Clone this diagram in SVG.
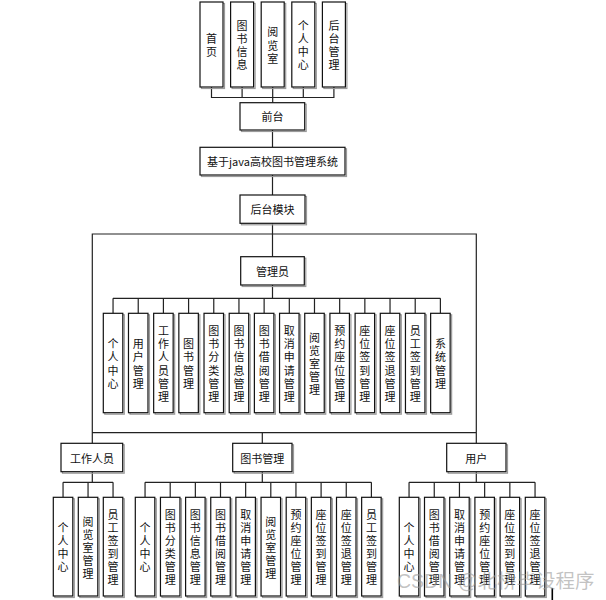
<svg xmlns="http://www.w3.org/2000/svg" width="606" height="600" viewBox="0 0 606 600">
<style>
.s{fill:none;stroke:#9a9a9a;stroke-width:1.2}
.b{fill:#fff;stroke:#111;stroke-width:1.2}
.t{font-family:"Noto Sans CJK SC","Noto Sans",sans-serif;font-size:11px;fill:#111;text-anchor:middle;dominant-baseline:central}
.c{fill:none;stroke:#222;stroke-width:1.2}
.wm{font-family:"Liberation Sans","Noto Sans CJK SC",sans-serif;font-size:19.5px;fill:#9a9a9a;fill-opacity:0.6}
</style>
<rect width="606" height="600" fill="#fff"/>
<g id="connectors">
<path class="c" d="M211.5 87V97.5H333.9V87M242.1 87V97.5M272.7 87V102.7M303.3 87V97.5"/>
<path class="c" d="M272.5 130V147.3M272.5 175V195M272.5 223.3V256.7"/>
<path class="c" d="M92.3 443.3V234H476.3V443.3M92.3 432.7H476.3M262.3 432.7V443.3"/>
<path class="c" d="M272.5 285V298.3M113 298.3H440.4"/>
<path class="c" d="M113.05 298.3V313.3M138.23 298.3V313.3M163.41 298.3V313.3M188.59 298.3V313.3M213.77 298.3V313.3M238.95 298.3V313.3M264.13 298.3V313.3M289.31 298.3V313.3M314.49 298.3V313.3M339.67 298.3V313.3M364.85 298.3V313.3M390.03 298.3V313.3M415.21 298.3V313.3M440.39 298.3V313.3"/>
<path class="c" d="M92.3 471.7V482.3M63.05 482.3H113.05M63.05 482.3V497.3M88.05 482.3V497.3M113.05 482.3V497.3"/>
<path class="c" d="M262.3 471.7V482.3M145.05 482.3H371.4M145.05 482.3V497.3M170.2 482.3V497.3M195.35 482.3V497.3M220.5 482.3V497.3M245.65 482.3V497.3M270.8 482.3V497.3M295.95 482.3V497.3M321.1 482.3V497.3M346.25 482.3V497.3M371.4 482.3V497.3"/>
<path class="c" d="M476.3 471.7V482.3M409.05 482.3H535.05M409.05 482.3V497.3M434.25 482.3V497.3M459.45 482.3V497.3M484.65 482.3V497.3M509.85 482.3V497.3M535.05 482.3V497.3"/>
<path d="M552.3 588V600" stroke="#000" stroke-width="1.6"/>
</g>
<g id="top-1"><rect class="s" x="201.5" y="3.5" width="23" height="85"/><rect class="b" x="200" y="2" width="23" height="85"/><text class="t"><tspan x="211.5" y="37.95">首</tspan><tspan x="211.5" dy="13.1">页</tspan></text></g>
<g id="top-2"><rect class="s" x="232.1" y="3.5" width="23" height="85"/><rect class="b" x="230.6" y="2" width="23" height="85"/><text class="t"><tspan x="242.1" y="24.85">图</tspan><tspan x="242.1" dy="13.1">书</tspan><tspan x="242.1" dy="13.1">信</tspan><tspan x="242.1" dy="13.1">息</tspan></text></g>
<g id="top-3"><rect class="s" x="262.7" y="3.5" width="23" height="85"/><rect class="b" x="261.2" y="2" width="23" height="85"/><text class="t"><tspan x="272.7" y="31.4">阅</tspan><tspan x="272.7" dy="13.1">览</tspan><tspan x="272.7" dy="13.1">室</tspan></text></g>
<g id="top-4"><rect class="s" x="293.3" y="3.5" width="23" height="85"/><rect class="b" x="291.8" y="2" width="23" height="85"/><text class="t"><tspan x="303.3" y="24.85">个</tspan><tspan x="303.3" dy="13.1">人</tspan><tspan x="303.3" dy="13.1">中</tspan><tspan x="303.3" dy="13.1">心</tspan></text></g>
<g id="top-5"><rect class="s" x="323.9" y="3.5" width="23" height="85"/><rect class="b" x="322.4" y="2" width="23" height="85"/><text class="t"><tspan x="333.9" y="24.85">后</tspan><tspan x="333.9" dy="13.1">台</tspan><tspan x="333.9" dy="13.1">管</tspan><tspan x="333.9" dy="13.1">理</tspan></text></g>
<g id="qiantai"><rect class="s" x="241.5" y="104.2" width="64.7" height="27.3"/><rect class="b" x="240" y="102.7" width="64.7" height="27.3"/><text class="t" x="272.4" y="116.4">前台</text></g>
<g id="system"><rect class="s" x="201.5" y="148.8" width="145" height="27.7"/><rect class="b" x="200" y="147.3" width="145" height="27.7"/><text class="t" x="272.5" y="161.2">基于java高校图书管理系统</text></g>
<g id="houtai"><rect class="s" x="241.5" y="196.5" width="65" height="28.3"/><rect class="b" x="240" y="195" width="65" height="28.3"/><text class="t" x="272.5" y="209.2">后台模块</text></g>
<g id="admin"><rect class="s" x="242.2" y="258.2" width="63.6" height="28.3"/><rect class="b" x="240.7" y="256.7" width="63.6" height="28.3"/><text class="t" x="272.5" y="270.9">管理员</text></g>
<g id="admin-1"><rect class="s" x="104.8" y="314.8" width="19.5" height="99.4"/><rect class="b" x="103.3" y="313.3" width="19.5" height="99.4"/><text class="t"><tspan x="113.05" y="343.35">个</tspan><tspan x="113.05" dy="13.1">人</tspan><tspan x="113.05" dy="13.1">中</tspan><tspan x="113.05" dy="13.1">心</tspan></text></g>
<g id="admin-2"><rect class="s" x="129.98" y="314.8" width="19.5" height="99.4"/><rect class="b" x="128.48" y="313.3" width="19.5" height="99.4"/><text class="t"><tspan x="138.23" y="343.35">用</tspan><tspan x="138.23" dy="13.1">户</tspan><tspan x="138.23" dy="13.1">管</tspan><tspan x="138.23" dy="13.1">理</tspan></text></g>
<g id="admin-3"><rect class="s" x="155.16" y="314.8" width="19.5" height="99.4"/><rect class="b" x="153.66" y="313.3" width="19.5" height="99.4"/><text class="t"><tspan x="163.41" y="330.25">工</tspan><tspan x="163.41" dy="13.1">作</tspan><tspan x="163.41" dy="13.1">人</tspan><tspan x="163.41" dy="13.1">员</tspan><tspan x="163.41" dy="13.1">管</tspan><tspan x="163.41" dy="13.1">理</tspan></text></g>
<g id="admin-4"><rect class="s" x="180.34" y="314.8" width="19.5" height="99.4"/><rect class="b" x="178.84" y="313.3" width="19.5" height="99.4"/><text class="t"><tspan x="188.59" y="343.35">图</tspan><tspan x="188.59" dy="13.1">书</tspan><tspan x="188.59" dy="13.1">管</tspan><tspan x="188.59" dy="13.1">理</tspan></text></g>
<g id="admin-5"><rect class="s" x="205.52" y="314.8" width="19.5" height="99.4"/><rect class="b" x="204.02" y="313.3" width="19.5" height="99.4"/><text class="t"><tspan x="213.77" y="330.25">图</tspan><tspan x="213.77" dy="13.1">书</tspan><tspan x="213.77" dy="13.1">分</tspan><tspan x="213.77" dy="13.1">类</tspan><tspan x="213.77" dy="13.1">管</tspan><tspan x="213.77" dy="13.1">理</tspan></text></g>
<g id="admin-6"><rect class="s" x="230.7" y="314.8" width="19.5" height="99.4"/><rect class="b" x="229.2" y="313.3" width="19.5" height="99.4"/><text class="t"><tspan x="238.95" y="330.25">图</tspan><tspan x="238.95" dy="13.1">书</tspan><tspan x="238.95" dy="13.1">信</tspan><tspan x="238.95" dy="13.1">息</tspan><tspan x="238.95" dy="13.1">管</tspan><tspan x="238.95" dy="13.1">理</tspan></text></g>
<g id="admin-7"><rect class="s" x="255.88" y="314.8" width="19.5" height="99.4"/><rect class="b" x="254.38" y="313.3" width="19.5" height="99.4"/><text class="t"><tspan x="264.13" y="330.25">图</tspan><tspan x="264.13" dy="13.1">书</tspan><tspan x="264.13" dy="13.1">借</tspan><tspan x="264.13" dy="13.1">阅</tspan><tspan x="264.13" dy="13.1">管</tspan><tspan x="264.13" dy="13.1">理</tspan></text></g>
<g id="admin-8"><rect class="s" x="281.06" y="314.8" width="19.5" height="99.4"/><rect class="b" x="279.56" y="313.3" width="19.5" height="99.4"/><text class="t"><tspan x="289.31" y="330.25">取</tspan><tspan x="289.31" dy="13.1">消</tspan><tspan x="289.31" dy="13.1">申</tspan><tspan x="289.31" dy="13.1">请</tspan><tspan x="289.31" dy="13.1">管</tspan><tspan x="289.31" dy="13.1">理</tspan></text></g>
<g id="admin-9"><rect class="s" x="306.24" y="314.8" width="19.5" height="99.4"/><rect class="b" x="304.74" y="313.3" width="19.5" height="99.4"/><text class="t"><tspan x="314.49" y="336.8">阅</tspan><tspan x="314.49" dy="13.1">览</tspan><tspan x="314.49" dy="13.1">室</tspan><tspan x="314.49" dy="13.1">管</tspan><tspan x="314.49" dy="13.1">理</tspan></text></g>
<g id="admin-10"><rect class="s" x="331.42" y="314.8" width="19.5" height="99.4"/><rect class="b" x="329.92" y="313.3" width="19.5" height="99.4"/><text class="t"><tspan x="339.67" y="330.25">预</tspan><tspan x="339.67" dy="13.1">约</tspan><tspan x="339.67" dy="13.1">座</tspan><tspan x="339.67" dy="13.1">位</tspan><tspan x="339.67" dy="13.1">管</tspan><tspan x="339.67" dy="13.1">理</tspan></text></g>
<g id="admin-11"><rect class="s" x="356.6" y="314.8" width="19.5" height="99.4"/><rect class="b" x="355.1" y="313.3" width="19.5" height="99.4"/><text class="t"><tspan x="364.85" y="330.25">座</tspan><tspan x="364.85" dy="13.1">位</tspan><tspan x="364.85" dy="13.1">签</tspan><tspan x="364.85" dy="13.1">到</tspan><tspan x="364.85" dy="13.1">管</tspan><tspan x="364.85" dy="13.1">理</tspan></text></g>
<g id="admin-12"><rect class="s" x="381.78" y="314.8" width="19.5" height="99.4"/><rect class="b" x="380.28" y="313.3" width="19.5" height="99.4"/><text class="t"><tspan x="390.03" y="330.25">座</tspan><tspan x="390.03" dy="13.1">位</tspan><tspan x="390.03" dy="13.1">签</tspan><tspan x="390.03" dy="13.1">退</tspan><tspan x="390.03" dy="13.1">管</tspan><tspan x="390.03" dy="13.1">理</tspan></text></g>
<g id="admin-13"><rect class="s" x="406.96" y="314.8" width="19.5" height="99.4"/><rect class="b" x="405.46" y="313.3" width="19.5" height="99.4"/><text class="t"><tspan x="415.21" y="330.25">员</tspan><tspan x="415.21" dy="13.1">工</tspan><tspan x="415.21" dy="13.1">签</tspan><tspan x="415.21" dy="13.1">到</tspan><tspan x="415.21" dy="13.1">管</tspan><tspan x="415.21" dy="13.1">理</tspan></text></g>
<g id="admin-14"><rect class="s" x="432.14" y="314.8" width="19.5" height="99.4"/><rect class="b" x="430.64" y="313.3" width="19.5" height="99.4"/><text class="t"><tspan x="440.39" y="343.35">系</tspan><tspan x="440.39" dy="13.1">统</tspan><tspan x="440.39" dy="13.1">管</tspan><tspan x="440.39" dy="13.1">理</tspan></text></g>
<g id="staff"><rect class="s" x="62.5" y="444.8" width="61.7" height="28.4"/><rect class="b" x="61" y="443.3" width="61.7" height="28.4"/><text class="t" x="91.9" y="457.5">工作人员</text></g>
<g id="books"><rect class="s" x="234.2" y="444.8" width="59.3" height="28.4"/><rect class="b" x="232.7" y="443.3" width="59.3" height="28.4"/><text class="t" x="262.3" y="457.5">图书管理</text></g>
<g id="user"><rect class="s" x="448.2" y="444.8" width="59.3" height="28.4"/><rect class="b" x="446.7" y="443.3" width="59.3" height="28.4"/><text class="t" x="476.3" y="457.5">用户</text></g>
<g id="staff-1"><rect class="s" x="54.8" y="498.8" width="19.5" height="98.7"/><rect class="b" x="53.3" y="497.3" width="19.5" height="98.7"/><text class="t"><tspan x="63.05" y="527.05">个</tspan><tspan x="63.05" dy="13.1">人</tspan><tspan x="63.05" dy="13.1">中</tspan><tspan x="63.05" dy="13.1">心</tspan></text></g>
<g id="staff-2"><rect class="s" x="79.8" y="498.8" width="19.5" height="98.7"/><rect class="b" x="78.3" y="497.3" width="19.5" height="98.7"/><text class="t"><tspan x="88.05" y="520.5">阅</tspan><tspan x="88.05" dy="13.1">览</tspan><tspan x="88.05" dy="13.1">室</tspan><tspan x="88.05" dy="13.1">管</tspan><tspan x="88.05" dy="13.1">理</tspan></text></g>
<g id="staff-3"><rect class="s" x="104.8" y="498.8" width="19.5" height="98.7"/><rect class="b" x="103.3" y="497.3" width="19.5" height="98.7"/><text class="t"><tspan x="113.05" y="513.95">员</tspan><tspan x="113.05" dy="13.1">工</tspan><tspan x="113.05" dy="13.1">签</tspan><tspan x="113.05" dy="13.1">到</tspan><tspan x="113.05" dy="13.1">管</tspan><tspan x="113.05" dy="13.1">理</tspan></text></g>
<g id="books-1"><rect class="s" x="136.8" y="498.8" width="19.5" height="98.7"/><rect class="b" x="135.3" y="497.3" width="19.5" height="98.7"/><text class="t"><tspan x="145.05" y="527.05">个</tspan><tspan x="145.05" dy="13.1">人</tspan><tspan x="145.05" dy="13.1">中</tspan><tspan x="145.05" dy="13.1">心</tspan></text></g>
<g id="books-2"><rect class="s" x="161.95" y="498.8" width="19.5" height="98.7"/><rect class="b" x="160.45" y="497.3" width="19.5" height="98.7"/><text class="t"><tspan x="170.2" y="513.95">图</tspan><tspan x="170.2" dy="13.1">书</tspan><tspan x="170.2" dy="13.1">分</tspan><tspan x="170.2" dy="13.1">类</tspan><tspan x="170.2" dy="13.1">管</tspan><tspan x="170.2" dy="13.1">理</tspan></text></g>
<g id="books-3"><rect class="s" x="187.1" y="498.8" width="19.5" height="98.7"/><rect class="b" x="185.6" y="497.3" width="19.5" height="98.7"/><text class="t"><tspan x="195.35" y="513.95">图</tspan><tspan x="195.35" dy="13.1">书</tspan><tspan x="195.35" dy="13.1">信</tspan><tspan x="195.35" dy="13.1">息</tspan><tspan x="195.35" dy="13.1">管</tspan><tspan x="195.35" dy="13.1">理</tspan></text></g>
<g id="books-4"><rect class="s" x="212.25" y="498.8" width="19.5" height="98.7"/><rect class="b" x="210.75" y="497.3" width="19.5" height="98.7"/><text class="t"><tspan x="220.5" y="513.95">图</tspan><tspan x="220.5" dy="13.1">书</tspan><tspan x="220.5" dy="13.1">借</tspan><tspan x="220.5" dy="13.1">阅</tspan><tspan x="220.5" dy="13.1">管</tspan><tspan x="220.5" dy="13.1">理</tspan></text></g>
<g id="books-5"><rect class="s" x="237.4" y="498.8" width="19.5" height="98.7"/><rect class="b" x="235.9" y="497.3" width="19.5" height="98.7"/><text class="t"><tspan x="245.65" y="513.95">取</tspan><tspan x="245.65" dy="13.1">消</tspan><tspan x="245.65" dy="13.1">申</tspan><tspan x="245.65" dy="13.1">请</tspan><tspan x="245.65" dy="13.1">管</tspan><tspan x="245.65" dy="13.1">理</tspan></text></g>
<g id="books-6"><rect class="s" x="262.55" y="498.8" width="19.5" height="98.7"/><rect class="b" x="261.05" y="497.3" width="19.5" height="98.7"/><text class="t"><tspan x="270.8" y="520.5">阅</tspan><tspan x="270.8" dy="13.1">览</tspan><tspan x="270.8" dy="13.1">室</tspan><tspan x="270.8" dy="13.1">管</tspan><tspan x="270.8" dy="13.1">理</tspan></text></g>
<g id="books-7"><rect class="s" x="287.7" y="498.8" width="19.5" height="98.7"/><rect class="b" x="286.2" y="497.3" width="19.5" height="98.7"/><text class="t"><tspan x="295.95" y="513.95">预</tspan><tspan x="295.95" dy="13.1">约</tspan><tspan x="295.95" dy="13.1">座</tspan><tspan x="295.95" dy="13.1">位</tspan><tspan x="295.95" dy="13.1">管</tspan><tspan x="295.95" dy="13.1">理</tspan></text></g>
<g id="books-8"><rect class="s" x="312.85" y="498.8" width="19.5" height="98.7"/><rect class="b" x="311.35" y="497.3" width="19.5" height="98.7"/><text class="t"><tspan x="321.1" y="513.95">座</tspan><tspan x="321.1" dy="13.1">位</tspan><tspan x="321.1" dy="13.1">签</tspan><tspan x="321.1" dy="13.1">到</tspan><tspan x="321.1" dy="13.1">管</tspan><tspan x="321.1" dy="13.1">理</tspan></text></g>
<g id="books-9"><rect class="s" x="338" y="498.8" width="19.5" height="98.7"/><rect class="b" x="336.5" y="497.3" width="19.5" height="98.7"/><text class="t"><tspan x="346.25" y="513.95">座</tspan><tspan x="346.25" dy="13.1">位</tspan><tspan x="346.25" dy="13.1">签</tspan><tspan x="346.25" dy="13.1">退</tspan><tspan x="346.25" dy="13.1">管</tspan><tspan x="346.25" dy="13.1">理</tspan></text></g>
<g id="books-10"><rect class="s" x="363.15" y="498.8" width="19.5" height="98.7"/><rect class="b" x="361.65" y="497.3" width="19.5" height="98.7"/><text class="t"><tspan x="371.4" y="513.95">员</tspan><tspan x="371.4" dy="13.1">工</tspan><tspan x="371.4" dy="13.1">签</tspan><tspan x="371.4" dy="13.1">到</tspan><tspan x="371.4" dy="13.1">管</tspan><tspan x="371.4" dy="13.1">理</tspan></text></g>
<g id="user-1"><rect class="s" x="400.8" y="498.8" width="19.5" height="98.7"/><rect class="b" x="399.3" y="497.3" width="19.5" height="98.7"/><text class="t"><tspan x="409.05" y="527.05">个</tspan><tspan x="409.05" dy="13.1">人</tspan><tspan x="409.05" dy="13.1">中</tspan><tspan x="409.05" dy="13.1">心</tspan></text></g>
<g id="user-2"><rect class="s" x="426" y="498.8" width="19.5" height="98.7"/><rect class="b" x="424.5" y="497.3" width="19.5" height="98.7"/><text class="t"><tspan x="434.25" y="513.95">图</tspan><tspan x="434.25" dy="13.1">书</tspan><tspan x="434.25" dy="13.1">借</tspan><tspan x="434.25" dy="13.1">阅</tspan><tspan x="434.25" dy="13.1">管</tspan><tspan x="434.25" dy="13.1">理</tspan></text></g>
<g id="user-3"><rect class="s" x="451.2" y="498.8" width="19.5" height="98.7"/><rect class="b" x="449.7" y="497.3" width="19.5" height="98.7"/><text class="t"><tspan x="459.45" y="513.95">取</tspan><tspan x="459.45" dy="13.1">消</tspan><tspan x="459.45" dy="13.1">申</tspan><tspan x="459.45" dy="13.1">请</tspan><tspan x="459.45" dy="13.1">管</tspan><tspan x="459.45" dy="13.1">理</tspan></text></g>
<g id="user-4"><rect class="s" x="476.4" y="498.8" width="19.5" height="98.7"/><rect class="b" x="474.9" y="497.3" width="19.5" height="98.7"/><text class="t"><tspan x="484.65" y="513.95">预</tspan><tspan x="484.65" dy="13.1">约</tspan><tspan x="484.65" dy="13.1">座</tspan><tspan x="484.65" dy="13.1">位</tspan><tspan x="484.65" dy="13.1">管</tspan><tspan x="484.65" dy="13.1">理</tspan></text></g>
<g id="user-5"><rect class="s" x="501.6" y="498.8" width="19.5" height="98.7"/><rect class="b" x="500.1" y="497.3" width="19.5" height="98.7"/><text class="t"><tspan x="509.85" y="513.95">座</tspan><tspan x="509.85" dy="13.1">位</tspan><tspan x="509.85" dy="13.1">签</tspan><tspan x="509.85" dy="13.1">到</tspan><tspan x="509.85" dy="13.1">管</tspan><tspan x="509.85" dy="13.1">理</tspan></text></g>
<g id="user-6"><rect class="s" x="526.8" y="498.8" width="19.5" height="98.7"/><rect class="b" x="525.3" y="497.3" width="19.5" height="98.7"/><text class="t"><tspan x="535.05" y="513.95">座</tspan><tspan x="535.05" dy="13.1">位</tspan><tspan x="535.05" dy="13.1">签</tspan><tspan x="535.05" dy="13.1">退</tspan><tspan x="535.05" dy="13.1">管</tspan><tspan x="535.05" dy="13.1">理</tspan></text></g>
<text class="wm" x="397" y="588">CSDN @北桥毕设程序</text>
</svg>
